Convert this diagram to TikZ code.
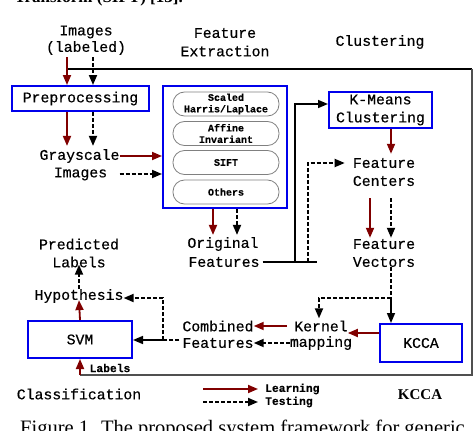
\documentclass[tikz,border=0pt]{standalone}
\usepackage{fontspec}
\setmainfont[FakeBold=0.45]{Liberation Mono}
\newfontfamily\capfont{Liberation Serif}
\usetikzlibrary{arrows.meta,calc}
\definecolor{lred}{RGB}{128,0,0}
\definecolor{bblue}{RGB}{0,0,235}
\definecolor{framegray}{RGB}{80,80,80}
\begin{document}
\begin{tikzpicture}[x=1pt,y=-1pt,
 txt/.style={inner sep=0pt, font=\fontsize{14.8}{18}\selectfont},
 small/.style={inner sep=0pt, font=\fontsize{11.3}{12}\selectfont\bfseries},
 bbox/.style={draw=bblue, line width=2pt, inner sep=0pt, align=center, font=\fontsize{14.8}{18}\selectfont},
 oval/.style={draw=gray, line width=0.8pt, rounded corners=11.5pt, minimum width=106pt, minimum height=24pt, inner sep=0pt, align=center, font=\fontsize{10}{11.5}\selectfont\bfseries},
 tip/.style={-{Triangle[length=10pt,width=8pt]}},
 lrn/.style={draw=lred, line width=1.8pt, tip},
 tst/.style={draw=black, line width=1.8pt, dash pattern=on 4pt off 2pt, tip},
 dsh/.style={draw=black, line width=1.8pt, dash pattern=on 4pt off 2pt},
 sol/.style={draw=black, line width=1.4pt},
 solarr/.style={draw=black, line width=1.6pt, tip},
]
\useasboundingbox (0,0) rectangle (474,431);
\clip (0,0) rectangle (474,431);

% captions (clipped by page, as in the reference)
\node[anchor=base east, inner sep=0pt, font=\capfont\bfseries\fontsize{17}{20}\selectfont] (captop) at (183,2) {Transform (SIFT) [13].};
\node[anchor=base west, inner sep=0pt, font=\capfont\fontsize{20.5}{22}\selectfont] (capbot) at (20,434) {Figure 1. The proposed system framework for generic};

% headers
\node[txt] (img1) at (86,32) {Images};
\node[txt] (img2) at (86,48) {(labeled)};
\node[txt] (fx1) at (225,33) {Feature};
\node[txt] (fx2) at (225,51) {Extraction};
\node[txt] (clu) at (380,42) {Clustering};

% frame
\coordinate (f1) at (67,69);
\coordinate (f2) at (472,69);
\coordinate (f3) at (472,375);

% boxes
\node[bbox, minimum width=137pt, minimum height=25pt] (pre) at (80.5,98.5) {Preprocessing};
\node[draw=bblue, line width=2pt, minimum width=124pt, minimum height=122pt, inner sep=0pt] (fe) at (225,147) {};
\node[oval] (ov1) at (226,104) {Scaled\\Harris/Laplace};
\node[oval] (ov2) at (226,133.5) {Affine\\Invariant};
\node[oval] (ov3) at (226,162.5) {SIFT};
\node[oval] (ov4) at (226,192) {Others};
\node[bbox, minimum width=103pt, minimum height=36pt] (km) at (380.5,110) {K-Means\\Clustering};
\node[bbox, minimum width=82pt, minimum height=38pt] (kcca) at (421,343) {KCCA};
\node[bbox, minimum width=104pt, minimum height=37pt] (svm) at (80,339.5) {SVM};

% texts
\node[txt] (gs1) at (79.5,156) {Grayscale};
\node[txt] (gs2) at (80.5,174) {Images};
\node[txt] (orig1) at (223,244) {Original};
\node[txt] (orig2) at (224,262) {Features};
\node[txt] (fc1) at (384,163) {Feature};
\node[txt] (fc2) at (384,181) {Centers};
\node[txt] (fv1) at (384,244) {Feature};
\node[txt] (fv2) at (384,262) {Vectors};
\node[txt] (kern1) at (321,326) {Kernel};
\node[txt] (kern2) at (321,343) {mapping};
\node[txt] (comb1) at (218,326) {Combined};
\node[txt] (comb2) at (218,343) {Features};
\node[txt] (hyp) at (79,296) {Hypothesis};
\node[txt] (pred1) at (79,244) {Predicted};
\node[txt] (pred2) at (79,262) {Labels};
\node[small] (lbl) at (110,368) {Labels};
\node[txt] (cls) at (79,394) {Classification};
\node[txt, font=\capfont\bfseries\fontsize{15}{18}\selectfont] (kccal) at (420,395) {KCCA};
\node[small, anchor=west] (leg1) at (265,389) {Learning};
\node[small, anchor=west] (leg2) at (265,402) {Testing};

% frame lines
\draw[line width=1.8pt] (f1) -- (f2);
\draw[line width=2.2pt, framegray] (f2) -- (f3) -- (f3 -| svm.south);

% images -> preprocessing
\coordinate (pL) at ($(pre.north)+(-13.5,0)$);
\coordinate (pR) at ($(pre.north)+(12.5,0)$);
\draw[lrn] ($(pL|-img2.south)+(0,2)$) -- (pL);
\draw[tst] ($(pR|-img2.south)+(0,2)$) -- (pR);
% preprocessing -> grayscale
\draw[lrn] (pL|-pre.south) -- ($(pL|-gs1.north)+(0,-3)$);
\draw[tst] (pR|-pre.south) -- ($(pR|-gs1.north)+(0,-3)$);
% grayscale -> feature extraction
\draw[lrn] (gs1.east) -- (gs1.east -| fe.west);
\draw[tst] (gs1.east |- gs2.east) -- (gs2.east -| fe.west);
% feature extraction -> original features
\coordinate (oL) at ($(fe.south)+(-12,0)$);
\coordinate (oR) at ($(fe.south)+(12,0)$);
\draw[lrn] (oL) -- ($(oL|-orig1.north)+(0,-2)$);
\draw[tst] (oR) -- ($(oR|-orig1.north)+(0,-2)$);
% original features -> k-means / feature centers
\coordinate (j1) at ($(orig2.east)+(35,0)$);
\coordinate (j2) at ($(orig2.east)+(48,0)$);
\draw[sol] ($(orig2.east)+(3,0)$) -- ($(orig2.east)+(57,0)$);
\draw[solarr] (j1) |- ($(km.west)+(0,-6)$);
\draw[tst] (j2) |- ($(fc1.west)+(-8,0)$);
% k-means -> feature centers
\coordinate (kx) at (391,0);
\draw[lrn] (kx|-km.south) -- ($(kx|-fc1.north)+(0,-4)$);
% feature centers -> feature vectors
\coordinate (vL) at (370,0);
\coordinate (vR) at (391,0);
\draw[lrn] ($(vL|-fc2.south)+(0,12)$) -- ($(vL|-fv1.north)+(0,-1)$);
\draw[tst] ($(vR|-fc2.south)+(0,12)$) -- ($(vR|-fv1.north)+(0,-1)$);
% feature vectors -> kcca / kernel mapping
\coordinate (br) at (391,298);
\draw[dsh] (vR|-fv2.south) -- (br);
\draw[solarr] (br) -- (br|-kcca.north);
\draw[tst] (br) -| ($(kern1.north)+(-2,-2)$);
% kcca -> kernel mapping
\coordinate (kk) at ($(kcca.west)+(0,-10)$);
\draw[lrn] (kk) -- (kk -| kern1.east);
% kernel mapping -> combined features
\draw[lrn] ($(kern1.west)+(-7,0)$) -- (comb1.east);
\draw[tst] (kern2.west) -- (comb2.east);
% combined features -> svm / hypothesis
\coordinate (j3) at (163,340);
\draw[dsh] ($(comb2.west |- j3)+(-3,0)$) -- (j3);
\draw[solarr] (j3) -- (j3 -| svm.east);
\draw[tst] (j3) |- ($(hyp.east)+(0,2)$);
% svm -> hypothesis -> predicted labels
\draw[lrn] (svm.north) -- ($(hyp.south)+(0,-3)$);
\draw[tst] (hyp.north) -- ($(pred2.south)+(0,-3)$);
% labels -> svm
\draw[lrn] (f3 -| svm.south) -- (svm.south);
% legend
\draw[lrn] ($(leg1.west)+(-62,0)$) -- ($(leg1.west)+(-7,0)$);
\draw[tst] ($(leg2.west)+(-62,0)$) -- ($(leg2.west)+(-7,0)$);
\end{tikzpicture}
\end{document}
